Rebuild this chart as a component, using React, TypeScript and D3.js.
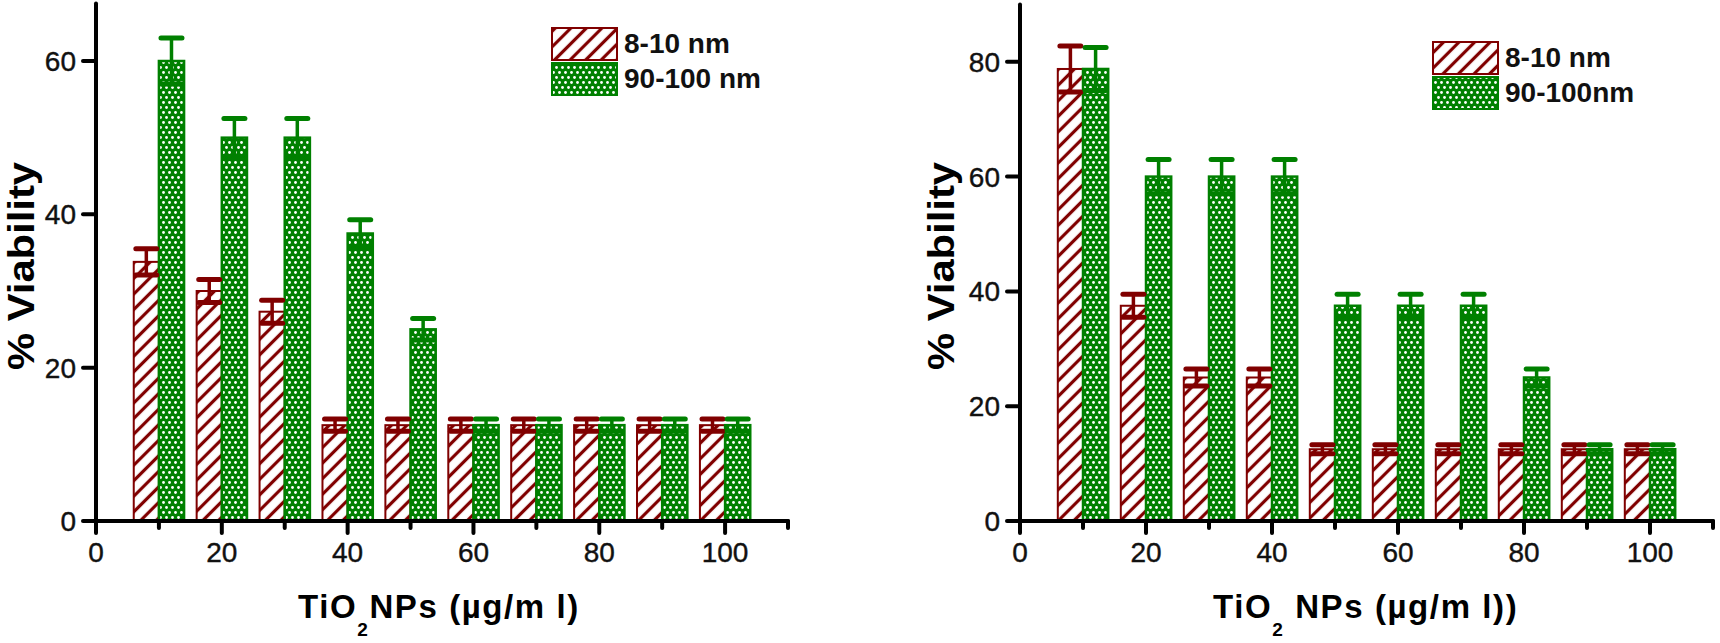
import React from "react";
import { scaleLinear } from "d3";

// concentrations of TiO2 nanoparticles (µg/ml)
const concentrations = [10, 20, 30, 40, 50, 60, 70, 80, 90, 100];

// panel A
const smallA = [33.8, 30, 27.3, 12.5, 12.5, 12.5, 12.5, 12.5, 12.5, 12.5];
const smallAErr = [1.7, 1.5, 1.5, 0.8, 0.8, 0.8, 0.8, 0.8, 0.8, 0.8];
const largeA = [60, 50, 50, 37.5, 25, 12.5, 12.5, 12.5, 12.5, 12.5];
const largeAErr = [3, 2.5, 2.5, 1.8, 1.4, 0.8, 0.8, 0.8, 0.8, 0.8];
const yTicksA = [0, 20, 40, 60];

// panel B
const smallB = [78.75, 37.5, 25, 25, 12.5, 12.5, 12.5, 12.5, 12.5, 12.5];
const smallBErr = [4, 2, 1.5, 1.5, 0.8, 0.8, 0.8, 0.8, 0.8, 0.8];
const largeB = [78.75, 60, 60, 60, 37.5, 37.5, 37.5, 25, 12.5, 12.5];
const largeBErr = [3.75, 3, 3, 3, 2, 2, 2, 1.5, 0.8, 0.8];
const yTicksB = [0, 20, 40, 60, 80];

const xMajor = [0, 20, 40, 60, 80, 100];
const xMinor = [10, 30, 50, 70, 90, 110];

const RED = "#800000";
const GREEN = "#008000";
const FONT = "'Liberation Sans', Arial, sans-serif";
const BAR_W = 4; // bar width in concentration units

interface PanelProps {
  small: number[];
  smallErr: number[];
  large: number[];
  largeErr: number[];
  yMax: number;
  yTicks: number[];
  xRange: [number, number];
  yTop: number;
  yTitleX: number;
  xTitleX: number;
  xTitleGap: boolean;
  legendX: number;
  legendY: number;
  labels: [string, string];
}

const ErrorBar = ({ cx, y0, y1, color }: { cx: number; y0: number; y1: number; color: string }) => (
  <g stroke={color} strokeLinecap="round">
    <line x1={cx} x2={cx} y1={y0} y2={y1} strokeWidth={3.5} />
    <line x1={cx - 10.5} x2={cx + 10.5} y1={y0} y2={y0} strokeWidth={5} />
    <line x1={cx - 10.5} x2={cx + 10.5} y1={y1} y2={y1} strokeWidth={5} />
  </g>
);

const Panel = (p: PanelProps) => {
  const bottom = 521;
  const x = scaleLinear().domain([0, 110]).range(p.xRange);
  const y = scaleLinear().domain([0, p.yMax]).range([bottom, p.yTop]);
  const x0 = x(0);

  return (
    <g>
      {/* bars */}
      {concentrations.map((c, i) => (
        <g key={c}>
          <rect
            x={x(c - BAR_W)}
            y={y(p.small[i])}
            width={x(c) - x(c - BAR_W)}
            height={bottom - y(p.small[i])}
            fill="url(#hatchRed)"
            stroke={RED}
            strokeWidth={2}
          />
          <rect
            x={x(c)}
            y={y(p.large[i])}
            width={x(c + BAR_W) - x(c)}
            height={bottom - y(p.large[i])}
            fill="url(#dotsGreen)"
            stroke={GREEN}
            strokeWidth={2.5}
          />
        </g>
      ))}
      {/* error bars */}
      {concentrations.map((c, i) => (
        <g key={"e" + c}>
          <ErrorBar
            cx={x(c - BAR_W / 2)}
            y0={y(p.small[i] + p.smallErr[i])}
            y1={y(p.small[i] - p.smallErr[i])}
            color={RED}
          />
          <ErrorBar
            cx={x(c + BAR_W / 2)}
            y0={y(p.large[i] + p.largeErr[i])}
            y1={y(p.large[i] - p.largeErr[i])}
            color={GREEN}
          />
        </g>
      ))}

      {/* axes */}
      <g stroke="#000" strokeWidth={4}>
        <line x1={x0} x2={x0} y1={p.yTop} y2={bottom + 2} strokeLinecap="round" />
        <line x1={x0} x2={x(110)} y1={bottom} y2={bottom} strokeLinecap="round" />
        {p.yTicks.map((t) => (
          <line key={t} x1={x0 - 13} x2={x0} y1={y(t)} y2={y(t)} strokeLinecap="round" />
        ))}
        {xMajor.map((t) => (
          <line key={t} x1={x(t)} x2={x(t)} y1={bottom} y2={bottom + 12} strokeLinecap="round" />
        ))}
        {xMinor.map((t) => (
          <line key={t} x1={x(t)} x2={x(t)} y1={bottom} y2={bottom + 7} strokeLinecap="round" />
        ))}
      </g>
      <g fontFamily={FONT} fontSize={28} fill="#111" stroke="#111" strokeWidth={0.4}>
        {p.yTicks.map((t) => (
          <text key={t} x={x0 - 20} y={y(t)} dy="0.36em" textAnchor="end">
            {t}
          </text>
        ))}
        {xMajor.map((t) => (
          <text key={t} x={x(t)} y={bottom + 41} textAnchor="middle">
            {t}
          </text>
        ))}
      </g>

      {/* axis titles */}
      <text
        transform={`translate(${p.yTitleX},266) rotate(-90)`}
        textAnchor="middle"
        fontFamily={FONT}
        fontWeight="bold"
        fontSize={36}
        textLength={208}
        lengthAdjust="spacingAndGlyphs"
      >
        % Viability
      </text>
      <text
        x={p.xTitleX}
        y={618}
        fontFamily={FONT}
        fontWeight="bold"
        fontSize={33}
        letterSpacing={1.6}
      >
        TiO
        <tspan fontSize={19} dy={18}>
          2
        </tspan>
        <tspan dy={-18}>{p.xTitleGap ? " NPs (µg/m l))" : "NPs (µg/m l)"}</tspan>
      </text>

      {/* legend */}
      <g>
        <rect x={p.legendX} y={p.legendY} width={65} height={32} fill="url(#hatchRed)" stroke={RED} strokeWidth={2} />
        <rect x={p.legendX} y={p.legendY + 35} width={65} height={32} fill="url(#dotsGreen)" stroke={GREEN} strokeWidth={2} />
        <g fontFamily={FONT} fontWeight="bold" fontSize={28} fill="#111">
          <text x={p.legendX + 72} y={p.legendY + 25}>
            {p.labels[0]}
          </text>
          <text x={p.legendX + 72} y={p.legendY + 60}>
            {p.labels[1]}
          </text>
        </g>
      </g>
    </g>
  );
};

export default function App() {
  return (
    <>
      <style>{"body{margin:0}"}</style>
      <svg width={1720} height={643} style={{ display: "block", background: "#fff" }}>
        <defs>
          <pattern
            id="hatchRed"
            patternUnits="userSpaceOnUse"
            width={11}
            height={11}
            patternTransform="rotate(45)"
          >
            <rect width={11} height={11} fill="#fff" />
            <line x1={5.5} x2={5.5} y1={0} y2={11} stroke={RED} strokeWidth={3.2} />
          </pattern>
          <pattern id="dotsGreen" patternUnits="userSpaceOnUse" width={6} height={10}>
            <rect width={6} height={10} fill={GREEN} />
            <circle cx={1.5} cy={2.5} r={1.4} fill="#fff" />
            <circle cx={4.5} cy={7.5} r={1.4} fill="#fff" />
          </pattern>
        </defs>
        <Panel
          small={smallA}
          smallErr={smallAErr}
          large={largeA}
          largeErr={largeAErr}
          yMax={67.5}
          yTicks={yTicksA}
          xRange={[96, 788]}
          yTop={3.5}
          yTitleX={34}
          xTitleX={298}
          xTitleGap={false}
          legendX={552}
          legendY={28}
          labels={["8-10 nm", "90-100 nm"]}
        />
        <Panel
          small={smallB}
          smallErr={smallBErr}
          large={largeB}
          largeErr={largeBErr}
          yMax={90}
          yTicks={yTicksB}
          xRange={[1020, 1713]}
          yTop={4.4}
          yTitleX={954}
          xTitleX={1213}
          xTitleGap={true}
          legendX={1433}
          legendY={42}
          labels={["8-10 nm", "90-100nm"]}
        />
      </svg>
    </>
  );
}
